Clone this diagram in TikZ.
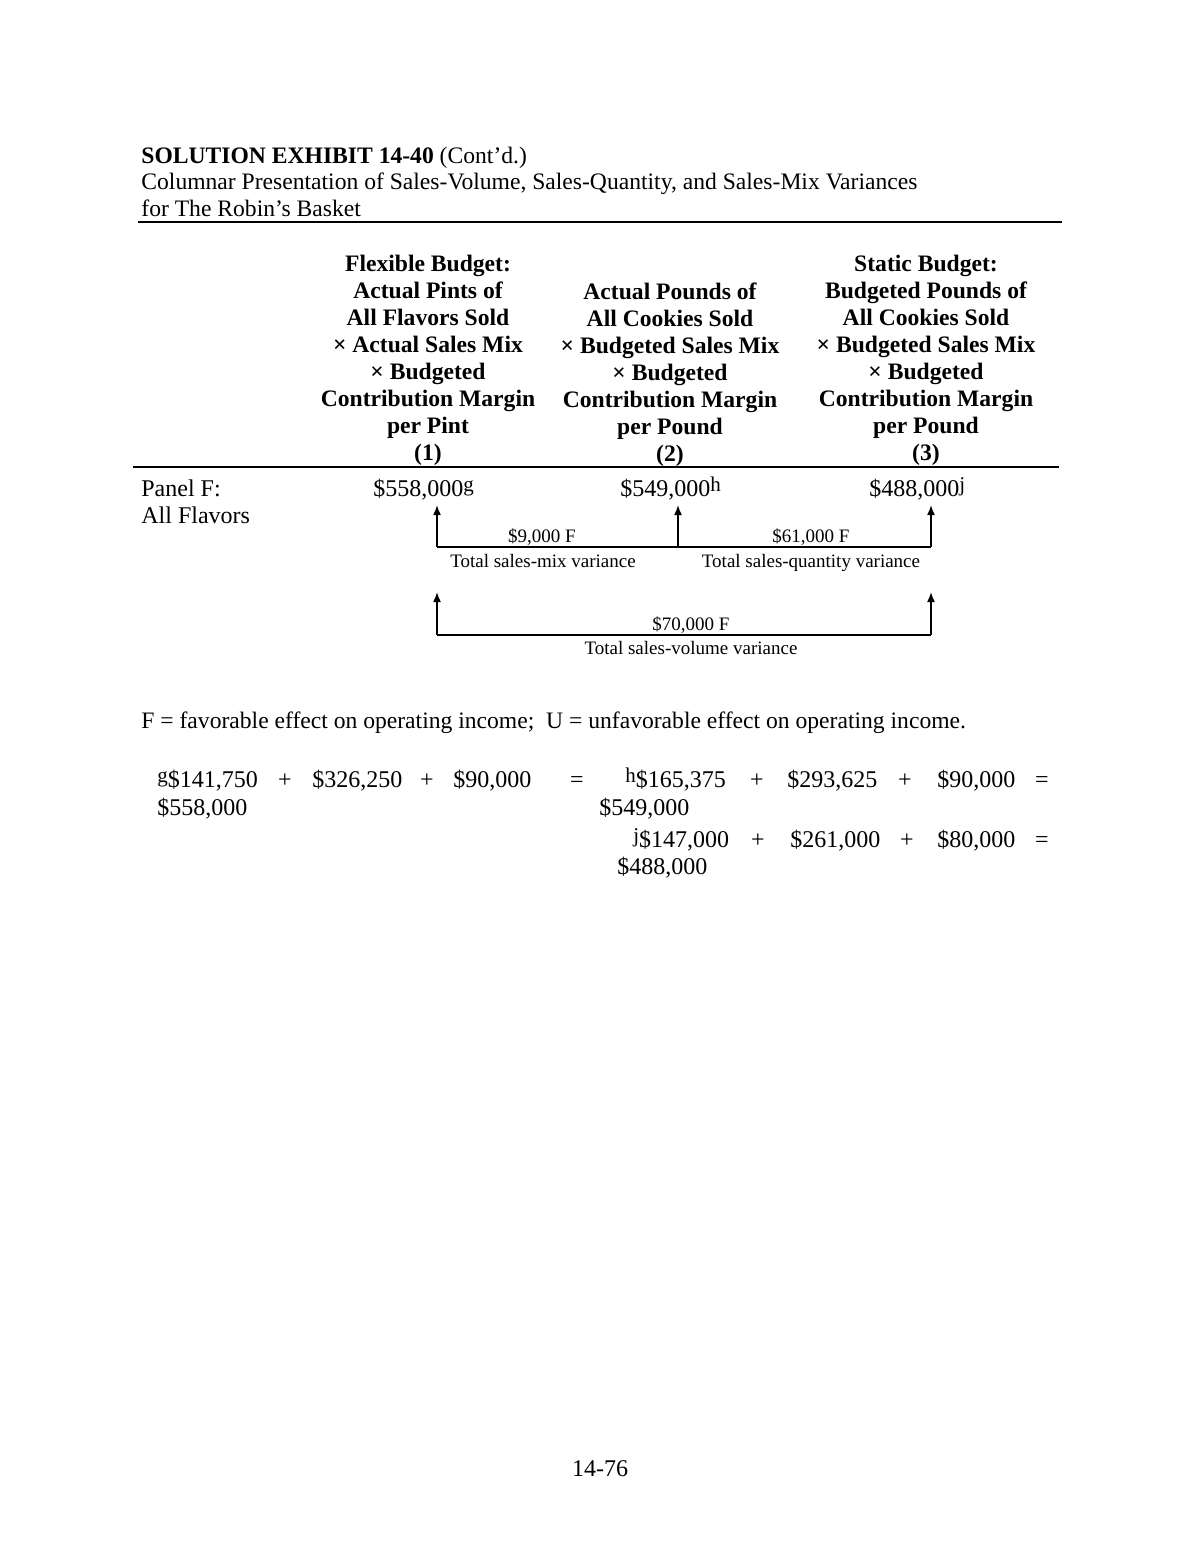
\documentclass[tikz,border=0pt]{standalone}
\usepackage{fontspec}
\setmainfont{Liberation Serif}
\usetikzlibrary{arrows.meta}
\newcommand{\supltr}[1]{\raisebox{2.5pt}{\fontsize{10.5pt}{10pt}\selectfont #1}}
\begin{document}
\begin{tikzpicture}[x=0.5pt,y=-0.5pt,
  txt/.style={inner sep=0pt,font=\fontsize{12pt}{13.5pt}\selectfont},
  prose/.style={inner sep=0pt,font=\fontsize{11.8pt}{13.5pt}\selectfont},
  hdr/.style={inner sep=0pt,align=center,anchor=north,font=\fontsize{11.8pt}{13.5pt}\selectfont\bfseries},
  small/.style={inner sep=0pt,font=\fontsize{9.5pt}{11pt}\selectfont},
  rule/.style={line width=1pt},
  conn/.style={line width=0.8pt},
  arr/.style={line width=0.8pt,-{Latex[length=5pt,width=4pt]}}]
\useasboundingbox (0,0) rectangle (1200,1553);
% title block
\node[prose,anchor=base west] (title) at (141,163) {\textbf{SOLUTION EXHIBIT 14-40} (Cont’d.)};
\node[prose,anchor=base west] (sub1) at (141,189) {Columnar Presentation of Sales-Volume, Sales-Quantity, and Sales-Mix Variances};
\node[prose,anchor=base west] (sub2) at (141,216) {for The Robin’s Basket};
\draw[rule] (138,222) -- (1062,222);
% column headers
\node[hdr] (h1) at (428,255) {Flexible Budget:\\Actual Pints of\\All Flavors Sold\\× Actual Sales Mix\\× Budgeted\\Contribution Margin\\per Pint\\(1)};
\node[hdr] (h2) at (670,282) {Actual Pounds of\\All Cookies Sold\\× Budgeted Sales Mix\\× Budgeted\\Contribution Margin\\per Pound\\(2)};
\node[hdr] (h3) at (926,255) {Static Budget:\\Budgeted Pounds of\\All Cookies Sold\\× Budgeted Sales Mix\\× Budgeted\\Contribution Margin\\per Pound\\(3)};
\draw[rule] (133,467) -- (1059,467);
% panel
\node[txt,anchor=base west] (panel) at (141,496) {Panel F:};
\node[txt,anchor=base west] (flav) at (141,523) {All Flavors};
\node[txt,anchor=base west] (v1) at (373,496) {\$558,000\supltr{g}};
\node[txt,anchor=base west] (v2) at (620,496) {\$549,000\supltr{h}};
\node[txt,anchor=base west] (v3) at (869,496) {\$488,000\supltr{j}};
% upper variance bracket
\coordinate (a1t) at (437,505); \coordinate (a1b) at (437,547);
\coordinate (a2t) at (678,505); \coordinate (a2b) at (678,547);
\coordinate (a3t) at (931,505); \coordinate (a3b) at (931,547);
\draw[conn] (a1b) -- (a3b);
\draw[arr] (a1b) -- (a1t);
\draw[arr] (a2b) -- (a2t);
\draw[arr] (a3b) -- (a3t);
\node[small,anchor=base] (mixv) at (542,542) {\$9,000 F};
\node[small,anchor=base] (qtyv) at (811,542) {\$61,000 F};
\node[small,anchor=base] (mixl) at (543,567) {Total sales-mix variance};
\node[small,anchor=base] (qtyl) at (811,567) {Total sales-quantity variance};
% lower variance bracket
\coordinate (b1t) at (437,592); \coordinate (b1b) at (437,635);
\coordinate (b3t) at (931,592); \coordinate (b3b) at (931,635);
\draw[conn] (b1b) -- (b3b);
\draw[arr] (b1b) -- (b1t);
\draw[arr] (b3b) -- (b3t);
\node[small,anchor=base] (volv) at (691,630) {\$70,000 F};
\node[small,anchor=base] (voll) at (691,654) {Total sales-volume variance};
% legend
\node[prose,anchor=base west] (legend) at (141,728) {F = favorable effect on operating income;\ \ U = unfavorable effect on operating income.};
% computations, row 1
\node[txt,anchor=base west] (g1) at (157,787) {\supltr{g}\$141,750};
\node[txt,anchor=base] (p1) at (285,787) {+};
\node[txt,anchor=base west] (g2) at (312,787) {\$326,250};
\node[txt,anchor=base] (p2) at (427,787) {+};
\node[txt,anchor=base west] (g3) at (453,787) {\$90,000};
\node[txt,anchor=base] (e1) at (577,787) {=};
\node[txt,anchor=base west] (h1v) at (625,787) {\supltr{h}\$165,375};
\node[txt,anchor=base] (p3) at (757,787) {+};
\node[txt,anchor=base west] (h2v) at (787,787) {\$293,625};
\node[txt,anchor=base] (p4) at (905,787) {+};
\node[txt,anchor=base west] (h3v) at (937,787) {\$90,000};
\node[txt,anchor=base] (e2) at (1042,787) {=};
\node[txt,anchor=base west] (r1) at (157,815) {\$558,000};
\node[txt,anchor=base west] (r2) at (599,815) {\$549,000};
% row 3
\node[txt,anchor=base west] (j1) at (633,847) {\supltr{j}\$147,000};
\node[txt,anchor=base] (p5) at (758,847) {+};
\node[txt,anchor=base west] (j2) at (790,847) {\$261,000};
\node[txt,anchor=base] (p6) at (907,847) {+};
\node[txt,anchor=base west] (j3) at (937,847) {\$80,000};
\node[txt,anchor=base] (e3) at (1042,847) {=};
\node[txt,anchor=base west] (r3) at (617,874) {\$488,000};
% page number
\node[txt,anchor=base] (page) at (600,1476) {14-76};
\end{tikzpicture}
\end{document}
